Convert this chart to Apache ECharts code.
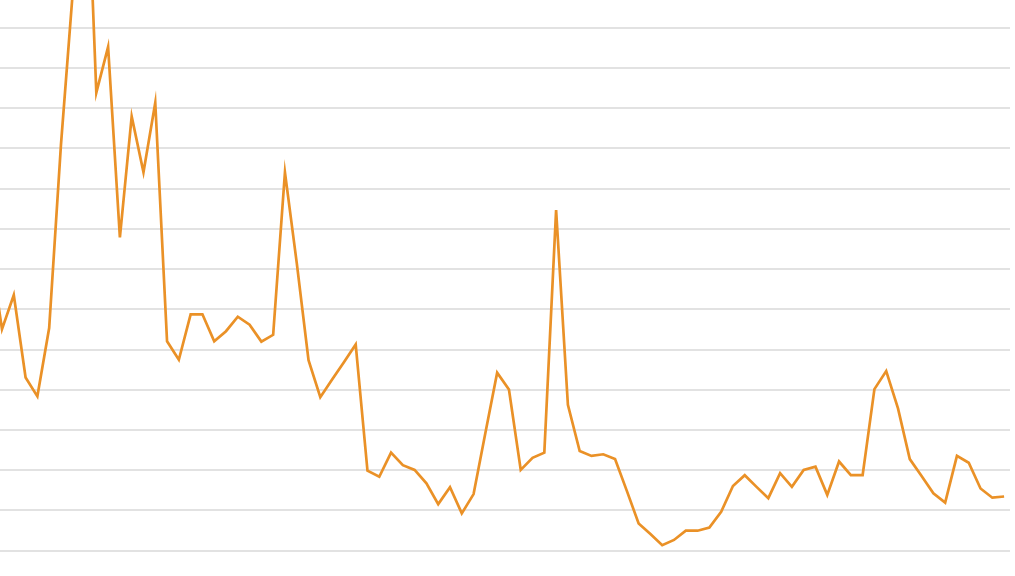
<!DOCTYPE html>
<html>
<head>
<meta charset="utf-8">
<script src="https://cdn.jsdelivr.net/npm/echarts@6/dist/echarts.min.js"></script>
<style>
html,body{margin:0;padding:0;background:#fff;}
#chart{width:1015px;height:576px;}
</style>
</head>
<body>
<div id="chart"></div>
<script>
// Series values (first point lies just left of the visible area)
const values = [
  74.7,
  55.0, 63.5, 43.0, 38.3, 55.3, 100.8, 138.8, 189.0, 113.8, 125.2,
  77.8, 107.9, 94.0, 111.3, 52.0, 47.4, 58.7, 58.7, 52.0, 54.5,
  58.1, 56.1, 51.9, 53.6, 94.0, 71.5, 47.3, 38.1, 42.5, 46.8,
  51.2, 19.8, 18.3, 24.3, 21.2, 20.0, 16.7, 11.5, 15.7, 9.2,
  14.0, 29.2, 44.2, 40.0, 20.0, 23.0, 24.3, 84.6, 36.2, 24.7,
  23.5, 23.9, 22.7, 14.8, 6.7, 4.1, 1.3, 2.6, 4.9, 4.9,
  5.7, 9.6, 16.0, 18.7, 15.8, 13.0, 19.2, 15.8, 20.0, 20.8,
  13.8, 22.1, 18.7, 18.7, 40.1, 44.6, 35.3, 22.7, 18.5, 14.2,
  11.9, 23.5, 21.8, 15.4, 13.1, 13.4
];
const yTicks = [0, 10, 20, 30, 40, 50, 60, 70, 80, 90, 100, 110, 120, 130];

const chart = echarts.init(document.getElementById('chart'), null, {renderer: 'canvas'});
chart.setOption({
  animation: false,
  backgroundColor: '#ffffff',
  grid: {left: 0, right: 5, top: 0, bottom: 25.6, containLabel: false},
  xAxis: {
    type: 'value',
    min: 0.83,
    max: 86.5,
    axisLine: {show: false},
    axisTick: {show: false},
    axisLabel: {show: false},
    splitLine: {show: false}
  },
  yAxis: {
    type: 'value',
    min: yTicks[0],
    max: 136.84,
    interval: 10,
    axisLine: {show: false},
    axisTick: {show: false},
    axisLabel: {show: false},
    splitLine: {show: true, showMaxLine: false, lineStyle: {color: '#d9d9d9', width: 1.5}}
  },
  series: [{
    type: 'line',
    data: values.map((v, i) => [i, v]),
    showSymbol: false,
    lineStyle: {color: '#EA9127', width: 2.7, join: 'miter'},
    itemStyle: {color: '#EA9127'}
  }]
});
</script>
</body>
</html>
